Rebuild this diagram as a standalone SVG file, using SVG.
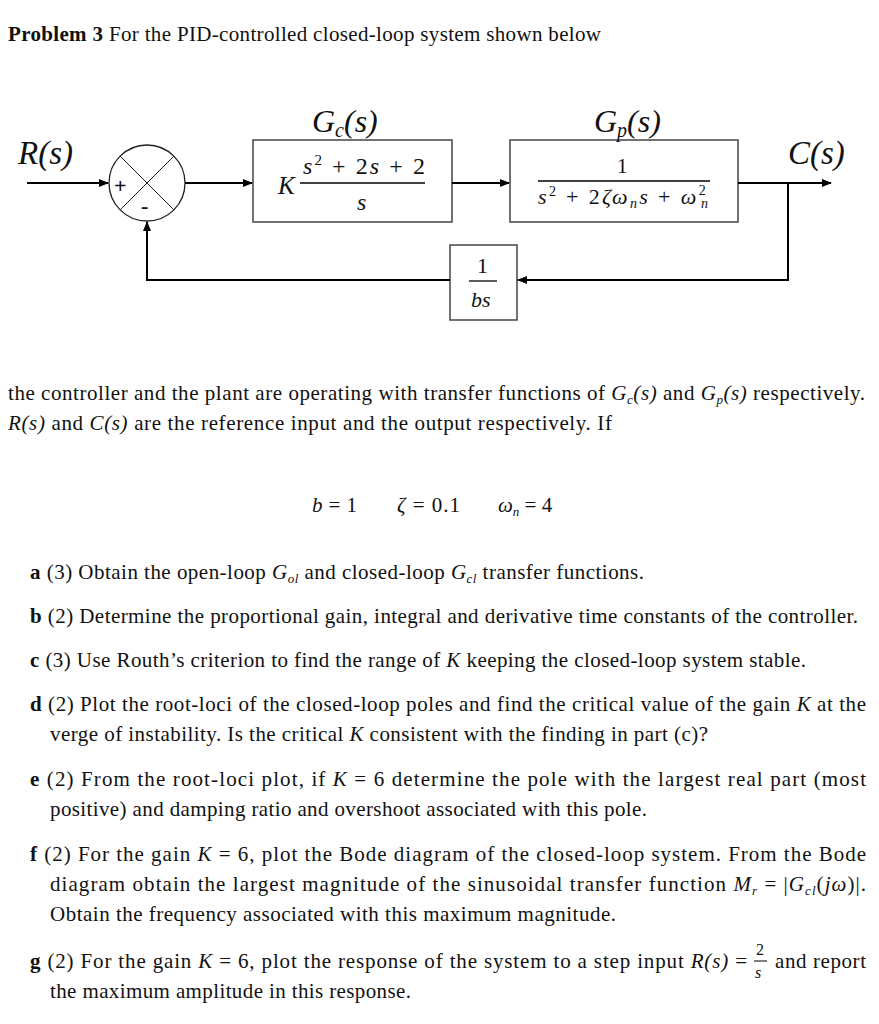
<svg xmlns="http://www.w3.org/2000/svg" width="879" height="1024" viewBox="0 0 879 1024">
<style>
text{font-family:"Liberation Serif","DejaVu Serif",serif;fill:#111;}
.t{font-size:21px;}
.m{font-style:italic;}
.b{font-weight:bold;}
.box{fill:none;stroke:#444;stroke-width:1.5;}
.ln{fill:none;stroke:#000;stroke-width:2;}
</style>
<defs><marker id="a" markerWidth="10" markerHeight="8" refX="9" refY="4" orient="auto" markerUnits="userSpaceOnUse"><path d="M0,0L10,4L0,8z" fill="#000"/></marker></defs>
<rect width="879" height="1024" fill="#fff"/>
<text x="8" y="41" class="t" textLength="593" lengthAdjust="spacing"><tspan class="b">Problem 3</tspan> For the PID-controlled closed-loop system shown below</text>
<text x="18" y="164" font-size="33" class="m">R(s)</text>
<text x="788" y="164" font-size="33" class="m">C(s)</text>
<g id="sum"><ellipse cx="147" cy="183" rx="38" ry="38" fill="none" stroke="#222" stroke-width="1.3"/>
<line x1="120" y1="156" x2="174" y2="210" stroke="#222"/><line x1="174" y1="156" x2="120" y2="210" stroke="#222"/>
<text x="114" y="193" font-size="22" font-family="Liberation Sans" font-weight="bold">+</text>
<text x="141" y="213" font-size="22" font-family="Liberation Sans" font-weight="bold">-</text></g>
<g id="gc"><rect class="box" x="253" y="140" width="199" height="82"/>
<text x="312" y="132" font-size="32" class="m">G<tspan font-size="20" dy="5">c</tspan><tspan dy="-5">(s)</tspan></text>
<text x="278" y="194" font-size="25" class="m">K</text>
<text x="303" y="174" font-size="24" textLength="122"><tspan class="m">s</tspan><tspan font-size="15" dy="-9">2</tspan><tspan dy="9"> + 2</tspan><tspan class="m">s</tspan> + 2</text>
<line x1="300" y1="183" x2="425" y2="183" stroke="#000" stroke-width="1.3"/>
<text x="357" y="210" font-size="24" class="m">s</text></g>
<g id="gp"><rect class="box" x="510" y="140" width="228" height="82"/>
<text x="594" y="132" font-size="32" class="m">G<tspan font-size="20" dy="5">p</tspan><tspan dy="-5">(s)</tspan></text>
<text x="617" y="173" font-size="21">1</text>
<line x1="538" y1="181" x2="710" y2="181" stroke="#000" stroke-width="1.3"/>
<text x="538" y="204" font-size="22" textLength="170"><tspan class="m">s</tspan><tspan font-size="14" dy="-8">2</tspan><tspan dy="8"> + 2</tspan><tspan class="m">ζω</tspan><tspan class="m" font-size="14" dy="4">n</tspan><tspan class="m" dy="-4">s</tspan> + <tspan class="m">ω</tspan><tspan font-size="14" dy="-9">2</tspan><tspan class="m" font-size="14" dx="-7" dy="13">n</tspan></text></g>
<g id="h"><rect class="box" x="450" y="245" width="67" height="75"/>
<text x="477" y="273" font-size="22">1</text>
<line x1="469" y1="281" x2="497" y2="281" stroke="#000" stroke-width="1.3"/>
<text x="471" y="307" font-size="22" class="m">bs</text></g>
<g id="connectors">
<line class="ln" x1="27" y1="183" x2="108" y2="183" marker-end="url(#a)"/>
<line class="ln" x1="185" y1="183" x2="252" y2="183" marker-end="url(#a)"/>
<line class="ln" x1="452" y1="183" x2="509" y2="183" marker-end="url(#a)"/>
<line class="ln" x1="738" y1="183" x2="831" y2="183" marker-end="url(#a)"/>
<polyline class="ln" points="788,183 788,280 518,280" marker-end="url(#a)"/>
<polyline class="ln" points="450,280 147,280 147,222" marker-end="url(#a)"/>
</g>
<text x="8" y="400" class="t" textLength="857" lengthAdjust="spacing">the controller and the plant are operating with transfer functions of <tspan class="m">G<tspan font-size="13" dy="4">c</tspan><tspan dy="-4">(s)</tspan></tspan> and <tspan class="m">G<tspan font-size="13" dy="4">p</tspan><tspan dy="-4">(s)</tspan></tspan> respectively.</text>
<text x="8" y="430" class="t" textLength="604" lengthAdjust="spacing"><tspan class="m">R(s)</tspan> and <tspan class="m">C(s)</tspan> are the reference input and the output respectively. If</text>
<text x="312" y="512" class="t" textLength="45"><tspan class="m">b</tspan> = 1</text>
<text x="397" y="512" class="t" textLength="63"><tspan class="m">ζ</tspan> = 0.1</text>
<text x="498" y="512" class="t"><tspan class="m">ω<tspan font-size="13" dy="4">n</tspan></tspan><tspan dy="-4"> = 4</tspan></text>
<text x="30" y="579" class="t" textLength="614" lengthAdjust="spacing"><tspan class="b">a</tspan> (3) Obtain the open-loop <tspan class="m">G<tspan font-size="13" dy="4">ol</tspan></tspan><tspan dy="-4"> and closed-loop </tspan><tspan class="m">G<tspan font-size="13" dy="4">cl</tspan></tspan><tspan dy="-4"> transfer functions.</tspan></text>
<text x="30" y="623" class="t" textLength="828" lengthAdjust="spacing"><tspan class="b">b</tspan> (2) Determine the proportional gain, integral and derivative time constants of the controller.</text>
<text x="30" y="667" class="t" textLength="776" lengthAdjust="spacing"><tspan class="b">c</tspan> (3) Use Routh’s criterion to find the range of <tspan class="m">K</tspan> keeping the closed-loop system stable.</text>
<text x="30" y="711" class="t" textLength="836" lengthAdjust="spacing"><tspan class="b">d</tspan> (2) Plot the root-loci of the closed-loop poles and find the critical value of the gain <tspan class="m">K</tspan> at the</text>
<text x="50" y="741" class="t" textLength="658" lengthAdjust="spacing">verge of instability. Is the critical <tspan class="m">K</tspan> consistent with the finding in part (c)?</text>
<text x="30" y="786" class="t" textLength="836" lengthAdjust="spacing"><tspan class="b">e</tspan> (2) From the root-loci plot, if <tspan class="m">K</tspan> = 6 determine the pole with the largest real part (most</text>
<text x="50" y="816" class="t" textLength="597" lengthAdjust="spacing">positive) and damping ratio and overshoot associated with this pole.</text>
<text x="30" y="861" class="t" textLength="836" lengthAdjust="spacing"><tspan class="b">f</tspan> (2) For the gain <tspan class="m">K</tspan> = 6, plot the Bode diagram of the closed-loop system. From the Bode</text>
<text x="50" y="891" class="t" textLength="816" lengthAdjust="spacing">diagram obtain the largest magnitude of the sinusoidal transfer function <tspan class="m">M<tspan font-size="13" dy="4">r</tspan></tspan><tspan dy="-4"> = |</tspan><tspan class="m">G<tspan font-size="13" dy="4">cl</tspan></tspan><tspan dy="-4">(</tspan><tspan class="m">jω</tspan>)|.</text>
<text x="50" y="921" class="t" textLength="566" lengthAdjust="spacing">Obtain the frequency associated with this maximum magnitude.</text>
<text x="30" y="968" class="t" textLength="717" lengthAdjust="spacing"><tspan class="b">g</tspan> (2) For the gain <tspan class="m">K</tspan> = 6, plot the response of the system to a step input <tspan class="m">R(s)</tspan> =</text>
<text x="756" y="955" font-size="16">2</text>
<line x1="754" y1="961" x2="767" y2="961" stroke="#000"/>
<text x="755" y="978" font-size="16" class="m">s</text>
<text x="775" y="968" class="t" textLength="91" lengthAdjust="spacing">and report</text>
<text x="50" y="998" class="t" textLength="361" lengthAdjust="spacing">the maximum amplitude in this response.</text>
</svg>
